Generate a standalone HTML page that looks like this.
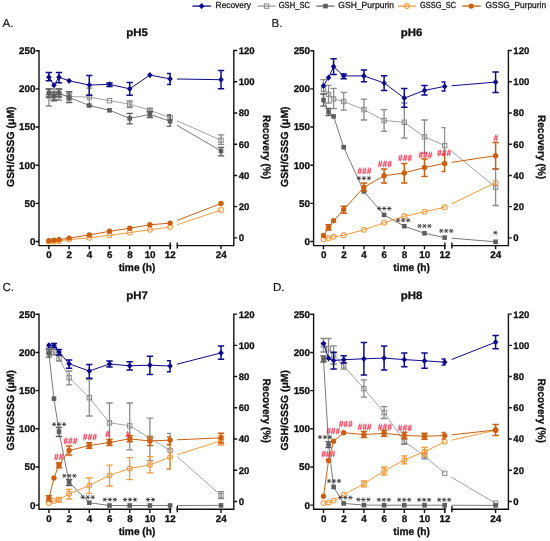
<!DOCTYPE html><html><head><meta charset="utf-8"><style>html,body{margin:0;padding:0;background:#fff;width:550px;height:541px;overflow:hidden}body{position:relative;font-family:"Liberation Sans", sans-serif}</style></head><body><svg width="550" height="541" viewBox="0 0 550 541" style="position:absolute;left:0;top:0;will-change:transform" text-rendering="geometricPrecision" font-family='"Liberation Sans", sans-serif'>
<rect width="550" height="541" fill="#fff"/>
<line x1="192.4" y1="6.1" x2="210.9" y2="6.1" stroke="#0c0c8c" stroke-width="1.3"/>
<path d="M201.6 3L204.4 6.1L201.6 9.2L198.8 6.1Z" fill="#0c0c8c"/>
<text x="215.6" y="8.2" font-size="8.8" fill="#111" stroke="#111" stroke-width="0.25" textLength="35.3" lengthAdjust="spacingAndGlyphs">Recovery</text>
<line x1="257.6" y1="6.1" x2="275.5" y2="6.1" stroke="#9a9a9a" stroke-width="1.3"/>
<rect x="264.4" y="3.9" width="4.4" height="4.4" fill="none" stroke="#8a8a8a" stroke-width="1"/>
<text x="278.7" y="8.2" font-size="8.8" fill="#111" stroke="#111" stroke-width="0.25" textLength="31.3" lengthAdjust="spacingAndGlyphs">GSH_SC</text>
<line x1="316.4" y1="6.1" x2="334.5" y2="6.1" stroke="#6a6a6a" stroke-width="1.3"/>
<rect x="323.2" y="3.8" width="4.6" height="4.6" fill="#5e5e5e"/>
<text x="338.3" y="8.2" font-size="8.8" fill="#111" stroke="#111" stroke-width="0.25" textLength="55.6" lengthAdjust="spacingAndGlyphs">GSH_Purpurin</text>
<line x1="398" y1="6.1" x2="416.2" y2="6.1" stroke="#f89a3a" stroke-width="1.3"/>
<circle cx="406.9" cy="6.1" r="2.45" fill="none" stroke="#f89a3a" stroke-width="1.05"/>
<text x="420" y="8.2" font-size="8.8" fill="#111" stroke="#111" stroke-width="0.25" textLength="36.3" lengthAdjust="spacingAndGlyphs">GSSG_SC</text>
<line x1="462.2" y1="6.1" x2="480.7" y2="6.1" stroke="#cc6010" stroke-width="1.3"/>
<circle cx="471.2" cy="6.1" r="2.7" fill="#cc6010"/>
<text x="485.6" y="8.2" font-size="8.8" fill="#111" stroke="#111" stroke-width="0.25" textLength="60.5" lengthAdjust="spacingAndGlyphs">GSSG_Purpurin</text>
<text x="2.5" y="27.3" font-size="11.6" fill="#111" stroke="#111" stroke-width="0.15">A.</text>
<text x="126.2" y="35.6" font-size="10.8" font-weight="bold" fill="#111" stroke="#111" stroke-width="0.3" textLength="21.6" lengthAdjust="spacingAndGlyphs">pH5</text>
<text x="35.4" y="244.9" font-size="9.8" font-weight="bold" fill="#111" stroke="#111" stroke-width="0.3" text-anchor="end">0</text>
<text x="35.4" y="206.74" font-size="9.8" font-weight="bold" fill="#111" stroke="#111" stroke-width="0.3" text-anchor="end">50</text>
<text x="35.4" y="168.58" font-size="9.8" font-weight="bold" fill="#111" stroke="#111" stroke-width="0.3" text-anchor="end">100</text>
<text x="35.4" y="130.42" font-size="9.8" font-weight="bold" fill="#111" stroke="#111" stroke-width="0.3" text-anchor="end">150</text>
<text x="35.4" y="92.26" font-size="9.8" font-weight="bold" fill="#111" stroke="#111" stroke-width="0.3" text-anchor="end">200</text>
<text x="35.4" y="54.1" font-size="9.8" font-weight="bold" fill="#111" stroke="#111" stroke-width="0.3" text-anchor="end">250</text>
<text x="238.7" y="241.3" font-size="9.6" font-weight="bold" fill="#111" stroke="#111" stroke-width="0.3">0</text>
<text x="238.7" y="210.07" font-size="9.6" font-weight="bold" fill="#111" stroke="#111" stroke-width="0.3">20</text>
<text x="238.7" y="178.83" font-size="9.6" font-weight="bold" fill="#111" stroke="#111" stroke-width="0.3">40</text>
<text x="238.7" y="147.6" font-size="9.6" font-weight="bold" fill="#111" stroke="#111" stroke-width="0.3">60</text>
<text x="238.7" y="116.37" font-size="9.6" font-weight="bold" fill="#111" stroke="#111" stroke-width="0.3">80</text>
<text x="238.7" y="85.13" font-size="9.6" font-weight="bold" fill="#111" stroke="#111" stroke-width="0.3">100</text>
<text x="238.7" y="53.9" font-size="9.6" font-weight="bold" fill="#111" stroke="#111" stroke-width="0.3">120</text>
<text x="49.1" y="258" font-size="9.8" font-weight="bold" fill="#111" stroke="#111" stroke-width="0.3" text-anchor="middle">0</text>
<text x="69.3" y="258" font-size="9.8" font-weight="bold" fill="#111" stroke="#111" stroke-width="0.3" text-anchor="middle">2</text>
<text x="89.5" y="258" font-size="9.8" font-weight="bold" fill="#111" stroke="#111" stroke-width="0.3" text-anchor="middle">4</text>
<text x="109.7" y="258" font-size="9.8" font-weight="bold" fill="#111" stroke="#111" stroke-width="0.3" text-anchor="middle">6</text>
<text x="129.9" y="258" font-size="9.8" font-weight="bold" fill="#111" stroke="#111" stroke-width="0.3" text-anchor="middle">8</text>
<text x="150.1" y="258" font-size="9.8" font-weight="bold" fill="#111" stroke="#111" stroke-width="0.3" text-anchor="middle">10</text>
<text x="170.3" y="258" font-size="9.8" font-weight="bold" fill="#111" stroke="#111" stroke-width="0.3" text-anchor="middle">12</text>
<text x="221.2" y="258" font-size="9.8" font-weight="bold" fill="#111" stroke="#111" stroke-width="0.3" text-anchor="middle">24</text>
<path d="M39 50.7L39 245.6L170.6 245.6M177 245.6L233.8 245.6L233.8 50.5M170.3 243.2L170.3 248.6M177.3 243.2L177.3 247.9M36.3 241.5L39 241.5M36.3 203.34L39 203.34M36.3 165.18L39 165.18M36.3 127.02L39 127.02M36.3 88.86L39 88.86M36.3 50.7L39 50.7M233.8 237.9L236.5 237.9M233.8 206.67L236.5 206.67M233.8 175.43L236.5 175.43M233.8 144.2L236.5 144.2M233.8 112.97L236.5 112.97M233.8 81.73L236.5 81.73M233.8 50.5L236.5 50.5M48.9 245.6L48.9 248.6M69.1 245.6L69.1 248.6M89.3 245.6L89.3 248.6M109.5 245.6L109.5 248.6M129.7 245.6L129.7 248.6M149.9 245.6L149.9 248.6M170.1 245.6L170.1 248.6M221 245.6L221 248.6" stroke="#111" stroke-width="1.4" fill="none" stroke-linecap="square"/>
<text x="13.7" y="146.7" font-size="10.3" font-weight="bold" fill="#111" stroke="#111" stroke-width="0.3" text-anchor="middle" transform="rotate(-90 13.7 146.7)" textLength="80.5" lengthAdjust="spacingAndGlyphs">GSH/GSSG (μM)</text>
<text x="263.3" y="147.05" font-size="10.8" font-weight="bold" fill="#111" stroke="#111" stroke-width="0.3" text-anchor="middle" transform="rotate(90 263.3 147.05)" textLength="64.3" lengthAdjust="spacingAndGlyphs">Recovery (%)</text>
<text x="137" y="271.3" font-size="10.6" font-weight="bold" fill="#111" stroke="#111" stroke-width="0.3" text-anchor="middle" textLength="36.7" lengthAdjust="spacingAndGlyphs">time (h)</text>
<clipPath id="c1A"><rect x="39" y="30" width="131.95" height="220"/></clipPath>
<clipPath id="c2A"><rect x="177" y="30" width="56.8" height="220"/></clipPath>
<path d="M48.9 96L53.95 95L59 94L69.1 96.5L89.3 97.1L109.5 100.7L129.7 104.2L149.9 110.3L170.1 117.8" stroke="#9a9a9a" stroke-width="0.9" fill="none" stroke-linejoin="round"/>
<path d="M170.1 117.8L221 140.2" stroke="#9a9a9a" stroke-width="0.9" fill="none" clip-path="url(#c2A)"/>
<path d="M48.9 89L48.9 106M45.7 89L52.1 89M45.7 106L52.1 106M53.95 89L53.95 101M50.75 89L57.15 89M50.75 101L57.15 101M59 89L59 100M55.8 89L62.2 89M55.8 100L62.2 100M69.1 93L69.1 100M65.9 93L72.3 93M65.9 100L72.3 100M89.3 88.2L89.3 106M86.1 88.2L92.5 88.2M86.1 106L92.5 106M129.7 100.9L129.7 107.5M126.5 100.9L132.9 100.9M126.5 107.5L132.9 107.5M149.9 108.5L149.9 112M146.7 108.5L153.1 108.5M146.7 112L153.1 112M221 134.8L221 144.4M217.8 134.8L224.2 134.8M217.8 144.4L224.2 144.4" stroke="#8a8a8a" stroke-width="1.3" fill="none"/>
<path d="M170.1 115.5L170.1 120M166.9 115.5L173.3 115.5M166.9 120L173.3 120" stroke="#8a8a8a" stroke-width="1.3" fill="none" clip-path="url(#c1A)"/>
<rect x="46.7" y="93.8" width="4.4" height="4.4" fill="none" stroke="#8a8a8a" stroke-width="1"/>
<rect x="51.75" y="92.8" width="4.4" height="4.4" fill="none" stroke="#8a8a8a" stroke-width="1"/>
<rect x="56.8" y="91.8" width="4.4" height="4.4" fill="none" stroke="#8a8a8a" stroke-width="1"/>
<rect x="66.9" y="94.3" width="4.4" height="4.4" fill="none" stroke="#8a8a8a" stroke-width="1"/>
<rect x="87.1" y="94.9" width="4.4" height="4.4" fill="none" stroke="#8a8a8a" stroke-width="1"/>
<rect x="107.3" y="98.5" width="4.4" height="4.4" fill="none" stroke="#8a8a8a" stroke-width="1"/>
<rect x="127.5" y="102" width="4.4" height="4.4" fill="none" stroke="#8a8a8a" stroke-width="1"/>
<rect x="147.7" y="108.1" width="4.4" height="4.4" fill="none" stroke="#8a8a8a" stroke-width="1"/>
<rect x="167.9" y="115.6" width="4.4" height="4.4" fill="none" stroke="#8a8a8a" stroke-width="1"/>
<rect x="218.8" y="138" width="4.4" height="4.4" fill="none" stroke="#8a8a8a" stroke-width="1"/>
<path d="M48.9 93L53.95 96L59 93L69.1 97.5L89.3 105.5L109.5 110.3L129.7 118.4L149.9 114.4L170.1 121.2" stroke="#6a6a6a" stroke-width="0.9" fill="none" stroke-linejoin="round"/>
<path d="M170.1 121.2L221 151" stroke="#6a6a6a" stroke-width="0.9" fill="none" clip-path="url(#c2A)"/>
<path d="M48.9 89L48.9 97M45.7 89L52.1 89M45.7 97L52.1 97M53.95 92L53.95 100M50.75 92L57.15 92M50.75 100L57.15 100M59 89L59 97M55.8 89L62.2 89M55.8 97L62.2 97M69.1 91.6L69.1 102.5M65.9 91.6L72.3 91.6M65.9 102.5L72.3 102.5M129.7 113.3L129.7 123.9M126.5 113.3L132.9 113.3M126.5 123.9L132.9 123.9M149.9 111.5L149.9 117.5M146.7 111.5L153.1 111.5M146.7 117.5L153.1 117.5M221 147.3L221 155.9M217.8 147.3L224.2 147.3M217.8 155.9L224.2 155.9" stroke="#5e5e5e" stroke-width="1.3" fill="none"/>
<path d="M170.1 115L170.1 126.3M166.9 115L173.3 115M166.9 126.3L173.3 126.3" stroke="#5e5e5e" stroke-width="1.3" fill="none" clip-path="url(#c1A)"/>
<rect x="46.6" y="90.7" width="4.6" height="4.6" fill="#5e5e5e"/>
<rect x="51.65" y="93.7" width="4.6" height="4.6" fill="#5e5e5e"/>
<rect x="56.7" y="90.7" width="4.6" height="4.6" fill="#5e5e5e"/>
<rect x="66.8" y="95.2" width="4.6" height="4.6" fill="#5e5e5e"/>
<rect x="87" y="103.2" width="4.6" height="4.6" fill="#5e5e5e"/>
<rect x="107.2" y="108" width="4.6" height="4.6" fill="#5e5e5e"/>
<rect x="127.4" y="116.1" width="4.6" height="4.6" fill="#5e5e5e"/>
<rect x="147.6" y="112.1" width="4.6" height="4.6" fill="#5e5e5e"/>
<rect x="167.8" y="118.9" width="4.6" height="4.6" fill="#5e5e5e"/>
<rect x="218.7" y="148.7" width="4.6" height="4.6" fill="#5e5e5e"/>
<path d="M48.9 241.5L53.95 241.5L59 241L69.1 239.6L89.3 237.8L109.5 235.3L129.7 232.6L149.9 229.7L170.1 227.1" stroke="#f89a3a" stroke-width="1.0" fill="none" stroke-linejoin="round"/>
<path d="M170.1 227.1L221 210" stroke="#f89a3a" stroke-width="1.0" fill="none" clip-path="url(#c2A)"/>
<circle cx="48.9" cy="241.5" r="2.45" fill="none" stroke="#f89a3a" stroke-width="1.05"/>
<circle cx="53.95" cy="241.5" r="2.45" fill="none" stroke="#f89a3a" stroke-width="1.05"/>
<circle cx="59" cy="241" r="2.45" fill="none" stroke="#f89a3a" stroke-width="1.05"/>
<circle cx="69.1" cy="239.6" r="2.45" fill="none" stroke="#f89a3a" stroke-width="1.05"/>
<circle cx="89.3" cy="237.8" r="2.45" fill="none" stroke="#f89a3a" stroke-width="1.05"/>
<circle cx="109.5" cy="235.3" r="2.45" fill="none" stroke="#f89a3a" stroke-width="1.05"/>
<circle cx="129.7" cy="232.6" r="2.45" fill="none" stroke="#f89a3a" stroke-width="1.05"/>
<circle cx="149.9" cy="229.7" r="2.45" fill="none" stroke="#f89a3a" stroke-width="1.05"/>
<circle cx="170.1" cy="227.1" r="2.45" fill="none" stroke="#f89a3a" stroke-width="1.05"/>
<circle cx="221" cy="210" r="2.45" fill="none" stroke="#f89a3a" stroke-width="1.05"/>
<path d="M48.9 240.8L53.95 240.3L59 239.8L69.1 238.1L89.3 234.9L109.5 231.3L129.7 228.3L149.9 224.8L170.1 223.1" stroke="#cc6010" stroke-width="1.0" fill="none" stroke-linejoin="round"/>
<path d="M170.1 223.1L221 203.5" stroke="#cc6010" stroke-width="1.0" fill="none" clip-path="url(#c2A)"/>
<circle cx="48.9" cy="240.8" r="2.7" fill="#cc6010"/>
<circle cx="53.95" cy="240.3" r="2.7" fill="#cc6010"/>
<circle cx="59" cy="239.8" r="2.7" fill="#cc6010"/>
<circle cx="69.1" cy="238.1" r="2.7" fill="#cc6010"/>
<circle cx="89.3" cy="234.9" r="2.7" fill="#cc6010"/>
<circle cx="109.5" cy="231.3" r="2.7" fill="#cc6010"/>
<circle cx="129.7" cy="228.3" r="2.7" fill="#cc6010"/>
<circle cx="149.9" cy="224.8" r="2.7" fill="#cc6010"/>
<circle cx="170.1" cy="223.1" r="2.7" fill="#cc6010"/>
<circle cx="221" cy="203.5" r="2.7" fill="#cc6010"/>
<path d="M48.9 77.2L53.95 85.2L59 77.2L69.1 80.8L89.3 85L109.5 84.4L129.7 88.8L149.9 75.1L170.1 78.9" stroke="#0c0c8c" stroke-width="1.0" fill="none" stroke-linejoin="round"/>
<path d="M170.1 78.9L221 79.7" stroke="#0c0c8c" stroke-width="1.0" fill="none" clip-path="url(#c2A)"/>
<path d="M48.9 72.4L48.9 80.8M45.7 72.4L52.1 72.4M45.7 80.8L52.1 80.8M59 72.4L59 82.7M55.8 72.4L62.2 72.4M55.8 82.7L62.2 82.7M89.3 75.5L89.3 95.3M86.1 75.5L92.5 75.5M86.1 95.3L92.5 95.3M109.5 82.9L109.5 86.6M106.3 82.9L112.7 82.9M106.3 86.6L112.7 86.6M129.7 82.5L129.7 95.2M126.5 82.5L132.9 82.5M126.5 95.2L132.9 95.2M221 70.4L221 88.8M217.8 70.4L224.2 70.4M217.8 88.8L224.2 88.8" stroke="#0c0c8c" stroke-width="1.5" fill="none"/>
<path d="M170.1 73.6L170.1 84.4M166.9 73.6L173.3 73.6M166.9 84.4L173.3 84.4" stroke="#0c0c8c" stroke-width="1.5" fill="none" clip-path="url(#c1A)"/>
<path d="M48.9 74.1L51.7 77.2L48.9 80.3L46.1 77.2Z" fill="#0c0c8c"/>
<path d="M53.95 82.1L56.75 85.2L53.95 88.3L51.15 85.2Z" fill="#0c0c8c"/>
<path d="M59 74.1L61.8 77.2L59 80.3L56.2 77.2Z" fill="#0c0c8c"/>
<path d="M69.1 77.7L71.9 80.8L69.1 83.9L66.3 80.8Z" fill="#0c0c8c"/>
<path d="M89.3 81.9L92.1 85L89.3 88.1L86.5 85Z" fill="#0c0c8c"/>
<path d="M109.5 81.3L112.3 84.4L109.5 87.5L106.7 84.4Z" fill="#0c0c8c"/>
<path d="M129.7 85.7L132.5 88.8L129.7 91.9L126.9 88.8Z" fill="#0c0c8c"/>
<path d="M149.9 72L152.7 75.1L149.9 78.2L147.1 75.1Z" fill="#0c0c8c"/>
<path d="M170.1 75.8L172.9 78.9L170.1 82L167.3 78.9Z" fill="#0c0c8c"/>
<path d="M221 76.6L223.8 79.7L221 82.8L218.2 79.7Z" fill="#0c0c8c"/>
<text x="271.6" y="27.4" font-size="11.6" fill="#111" stroke="#111" stroke-width="0.15">B.</text>
<text x="400.8" y="35.6" font-size="10.8" font-weight="bold" fill="#111" stroke="#111" stroke-width="0.3" textLength="21.6" lengthAdjust="spacingAndGlyphs">pH6</text>
<text x="310" y="244.9" font-size="9.8" font-weight="bold" fill="#111" stroke="#111" stroke-width="0.3" text-anchor="end">0</text>
<text x="310" y="206.74" font-size="9.8" font-weight="bold" fill="#111" stroke="#111" stroke-width="0.3" text-anchor="end">50</text>
<text x="310" y="168.58" font-size="9.8" font-weight="bold" fill="#111" stroke="#111" stroke-width="0.3" text-anchor="end">100</text>
<text x="310" y="130.42" font-size="9.8" font-weight="bold" fill="#111" stroke="#111" stroke-width="0.3" text-anchor="end">150</text>
<text x="310" y="92.26" font-size="9.8" font-weight="bold" fill="#111" stroke="#111" stroke-width="0.3" text-anchor="end">200</text>
<text x="310" y="54.1" font-size="9.8" font-weight="bold" fill="#111" stroke="#111" stroke-width="0.3" text-anchor="end">250</text>
<text x="513.3" y="241.3" font-size="9.6" font-weight="bold" fill="#111" stroke="#111" stroke-width="0.3">0</text>
<text x="513.3" y="210.07" font-size="9.6" font-weight="bold" fill="#111" stroke="#111" stroke-width="0.3">20</text>
<text x="513.3" y="178.83" font-size="9.6" font-weight="bold" fill="#111" stroke="#111" stroke-width="0.3">40</text>
<text x="513.3" y="147.6" font-size="9.6" font-weight="bold" fill="#111" stroke="#111" stroke-width="0.3">60</text>
<text x="513.3" y="116.37" font-size="9.6" font-weight="bold" fill="#111" stroke="#111" stroke-width="0.3">80</text>
<text x="513.3" y="85.13" font-size="9.6" font-weight="bold" fill="#111" stroke="#111" stroke-width="0.3">100</text>
<text x="513.3" y="53.9" font-size="9.6" font-weight="bold" fill="#111" stroke="#111" stroke-width="0.3">120</text>
<text x="323.7" y="258" font-size="9.8" font-weight="bold" fill="#111" stroke="#111" stroke-width="0.3" text-anchor="middle">0</text>
<text x="343.9" y="258" font-size="9.8" font-weight="bold" fill="#111" stroke="#111" stroke-width="0.3" text-anchor="middle">2</text>
<text x="364.1" y="258" font-size="9.8" font-weight="bold" fill="#111" stroke="#111" stroke-width="0.3" text-anchor="middle">4</text>
<text x="384.3" y="258" font-size="9.8" font-weight="bold" fill="#111" stroke="#111" stroke-width="0.3" text-anchor="middle">6</text>
<text x="404.5" y="258" font-size="9.8" font-weight="bold" fill="#111" stroke="#111" stroke-width="0.3" text-anchor="middle">8</text>
<text x="424.7" y="258" font-size="9.8" font-weight="bold" fill="#111" stroke="#111" stroke-width="0.3" text-anchor="middle">10</text>
<text x="444.9" y="258" font-size="9.8" font-weight="bold" fill="#111" stroke="#111" stroke-width="0.3" text-anchor="middle">12</text>
<text x="495.8" y="258" font-size="9.8" font-weight="bold" fill="#111" stroke="#111" stroke-width="0.3" text-anchor="middle">24</text>
<path d="M313.6 50.7L313.6 245.6L445.2 245.6M451.6 245.6L508.4 245.6L508.4 50.5M444.9 243.2L444.9 248.6M451.9 243.2L451.9 247.9M310.9 241.5L313.6 241.5M310.9 203.34L313.6 203.34M310.9 165.18L313.6 165.18M310.9 127.02L313.6 127.02M310.9 88.86L313.6 88.86M310.9 50.7L313.6 50.7M508.4 237.9L511.1 237.9M508.4 206.67L511.1 206.67M508.4 175.43L511.1 175.43M508.4 144.2L511.1 144.2M508.4 112.97L511.1 112.97M508.4 81.73L511.1 81.73M508.4 50.5L511.1 50.5M323.5 245.6L323.5 248.6M343.7 245.6L343.7 248.6M363.9 245.6L363.9 248.6M384.1 245.6L384.1 248.6M404.3 245.6L404.3 248.6M424.5 245.6L424.5 248.6M444.7 245.6L444.7 248.6M495.6 245.6L495.6 248.6" stroke="#111" stroke-width="1.4" fill="none" stroke-linecap="square"/>
<text x="288.3" y="146.7" font-size="10.3" font-weight="bold" fill="#111" stroke="#111" stroke-width="0.3" text-anchor="middle" transform="rotate(-90 288.3 146.7)" textLength="80.5" lengthAdjust="spacingAndGlyphs">GSH/GSSG (μM)</text>
<text x="537.9" y="147.05" font-size="10.8" font-weight="bold" fill="#111" stroke="#111" stroke-width="0.3" text-anchor="middle" transform="rotate(90 537.9 147.05)" textLength="64.3" lengthAdjust="spacingAndGlyphs">Recovery (%)</text>
<text x="411.6" y="271.3" font-size="10.6" font-weight="bold" fill="#111" stroke="#111" stroke-width="0.3" text-anchor="middle" textLength="36.7" lengthAdjust="spacingAndGlyphs">time (h)</text>
<clipPath id="c1B"><rect x="313.6" y="30" width="131.95" height="220"/></clipPath>
<clipPath id="c2B"><rect x="451.6" y="30" width="56.8" height="220"/></clipPath>
<path d="M323.5 89.3L328.55 94.4L333.6 99L343.7 101.5L363.9 109.6L384.1 120.5L404.3 122.3L424.5 136.9L444.7 145.6" stroke="#9a9a9a" stroke-width="0.9" fill="none" stroke-linejoin="round"/>
<path d="M444.7 145.6L495.6 187.2" stroke="#9a9a9a" stroke-width="0.9" fill="none" clip-path="url(#c2B)"/>
<path d="M323.5 79.7L323.5 94.4M320.3 79.7L326.7 79.7M320.3 94.4L326.7 94.4M328.55 85.3L328.55 103M325.35 85.3L331.75 85.3M325.35 103L331.75 103M333.6 88.3L333.6 108.7M330.4 88.3L336.8 88.3M330.4 108.7L336.8 108.7M343.7 92.4L343.7 110.2M340.5 92.4L346.9 92.4M340.5 110.2L346.9 110.2M363.9 99.2L363.9 120M360.7 99.2L367.1 99.2M360.7 120L367.1 120M384.1 109.7L384.1 131.3M380.9 109.7L387.3 109.7M380.9 131.3L387.3 131.3M404.3 103L404.3 138.2M401.1 103L407.5 103M401.1 138.2L407.5 138.2M424.5 120L424.5 153M421.3 120L427.7 120M421.3 153L427.7 153M495.6 169L495.6 205.5M492.4 169L498.8 169M492.4 205.5L498.8 205.5" stroke="#8a8a8a" stroke-width="1.3" fill="none"/>
<path d="M444.7 127.6L444.7 163M441.5 127.6L447.9 127.6M441.5 163L447.9 163" stroke="#8a8a8a" stroke-width="1.3" fill="none" clip-path="url(#c1B)"/>
<rect x="321.3" y="87.1" width="4.4" height="4.4" fill="none" stroke="#8a8a8a" stroke-width="1"/>
<rect x="326.35" y="92.2" width="4.4" height="4.4" fill="none" stroke="#8a8a8a" stroke-width="1"/>
<rect x="331.4" y="96.8" width="4.4" height="4.4" fill="none" stroke="#8a8a8a" stroke-width="1"/>
<rect x="341.5" y="99.3" width="4.4" height="4.4" fill="none" stroke="#8a8a8a" stroke-width="1"/>
<rect x="361.7" y="107.4" width="4.4" height="4.4" fill="none" stroke="#8a8a8a" stroke-width="1"/>
<rect x="381.9" y="118.3" width="4.4" height="4.4" fill="none" stroke="#8a8a8a" stroke-width="1"/>
<rect x="402.1" y="120.1" width="4.4" height="4.4" fill="none" stroke="#8a8a8a" stroke-width="1"/>
<rect x="422.3" y="134.7" width="4.4" height="4.4" fill="none" stroke="#8a8a8a" stroke-width="1"/>
<rect x="442.5" y="143.4" width="4.4" height="4.4" fill="none" stroke="#8a8a8a" stroke-width="1"/>
<rect x="493.4" y="185" width="4.4" height="4.4" fill="none" stroke="#8a8a8a" stroke-width="1"/>
<path d="M323.5 100L328.55 111.9L333.6 116.4L343.7 147.2L363.9 191.4L384.1 214.9L404.3 226.2L424.5 233.3L444.7 237.6" stroke="#6a6a6a" stroke-width="0.9" fill="none" stroke-linejoin="round"/>
<path d="M444.7 237.6L495.6 241.8" stroke="#6a6a6a" stroke-width="0.9" fill="none" clip-path="url(#c2B)"/>
<path d="M323.5 93.9L323.5 106.1M320.3 93.9L326.7 93.9M320.3 106.1L326.7 106.1M328.55 108.5L328.55 115.5M325.35 108.5L331.75 108.5M325.35 115.5L331.75 115.5" stroke="#5e5e5e" stroke-width="1.3" fill="none"/>
<rect x="321.2" y="97.7" width="4.6" height="4.6" fill="#5e5e5e"/>
<rect x="326.25" y="109.6" width="4.6" height="4.6" fill="#5e5e5e"/>
<rect x="331.3" y="114.1" width="4.6" height="4.6" fill="#5e5e5e"/>
<rect x="341.4" y="144.9" width="4.6" height="4.6" fill="#5e5e5e"/>
<rect x="361.6" y="189.1" width="4.6" height="4.6" fill="#5e5e5e"/>
<rect x="381.8" y="212.6" width="4.6" height="4.6" fill="#5e5e5e"/>
<rect x="402" y="223.9" width="4.6" height="4.6" fill="#5e5e5e"/>
<rect x="422.2" y="231" width="4.6" height="4.6" fill="#5e5e5e"/>
<rect x="442.4" y="235.3" width="4.6" height="4.6" fill="#5e5e5e"/>
<rect x="493.3" y="239.5" width="4.6" height="4.6" fill="#5e5e5e"/>
<path d="M323.5 239.2L328.55 238.3L333.6 236.8L343.7 235.3L363.9 229.8L384.1 222.7L404.3 216.3L424.5 211.7L444.7 207.3" stroke="#f89a3a" stroke-width="1.0" fill="none" stroke-linejoin="round"/>
<path d="M444.7 207.3L495.6 182.6" stroke="#f89a3a" stroke-width="1.0" fill="none" clip-path="url(#c2B)"/>
<circle cx="323.5" cy="239.2" r="2.45" fill="none" stroke="#f89a3a" stroke-width="1.05"/>
<circle cx="328.55" cy="238.3" r="2.45" fill="none" stroke="#f89a3a" stroke-width="1.05"/>
<circle cx="333.6" cy="236.8" r="2.45" fill="none" stroke="#f89a3a" stroke-width="1.05"/>
<circle cx="343.7" cy="235.3" r="2.45" fill="none" stroke="#f89a3a" stroke-width="1.05"/>
<circle cx="363.9" cy="229.8" r="2.45" fill="none" stroke="#f89a3a" stroke-width="1.05"/>
<circle cx="384.1" cy="222.7" r="2.45" fill="none" stroke="#f89a3a" stroke-width="1.05"/>
<circle cx="404.3" cy="216.3" r="2.45" fill="none" stroke="#f89a3a" stroke-width="1.05"/>
<circle cx="424.5" cy="211.7" r="2.45" fill="none" stroke="#f89a3a" stroke-width="1.05"/>
<circle cx="444.7" cy="207.3" r="2.45" fill="none" stroke="#f89a3a" stroke-width="1.05"/>
<circle cx="495.6" cy="182.6" r="2.45" fill="none" stroke="#f89a3a" stroke-width="1.05"/>
<path d="M323.5 235.5L328.55 227.5L333.6 220.8L343.7 209.6L363.9 187.3L384.1 175.8L404.3 172.9L424.5 167.5L444.7 163.4" stroke="#cc6010" stroke-width="1.0" fill="none" stroke-linejoin="round"/>
<path d="M444.7 163.4L495.6 155.7" stroke="#cc6010" stroke-width="1.0" fill="none" clip-path="url(#c2B)"/>
<path d="M328.55 224.7L328.55 230.1M325.35 224.7L331.75 224.7M325.35 230.1L331.75 230.1M343.7 206.2L343.7 213.3M340.5 206.2L346.9 206.2M340.5 213.3L346.9 213.3M363.9 183L363.9 191.1M360.7 183L367.1 183M360.7 191.1L367.1 191.1M384.1 169.1L384.1 183M380.9 169.1L387.3 169.1M380.9 183L387.3 183M404.3 163.6L404.3 183M401.1 163.6L407.5 163.6M401.1 183L407.5 183M424.5 159L424.5 176.6M421.3 159L427.7 159M421.3 176.6L427.7 176.6M495.6 142.5L495.6 168.9M492.4 142.5L498.8 142.5M492.4 168.9L498.8 168.9" stroke="#cc6010" stroke-width="1.5" fill="none"/>
<path d="M444.7 154.7L444.7 171.4M441.5 154.7L447.9 154.7M441.5 171.4L447.9 171.4" stroke="#cc6010" stroke-width="1.5" fill="none" clip-path="url(#c1B)"/>
<circle cx="323.5" cy="235.5" r="2.7" fill="#cc6010"/>
<circle cx="328.55" cy="227.5" r="2.7" fill="#cc6010"/>
<circle cx="333.6" cy="220.8" r="2.7" fill="#cc6010"/>
<circle cx="343.7" cy="209.6" r="2.7" fill="#cc6010"/>
<circle cx="363.9" cy="187.3" r="2.7" fill="#cc6010"/>
<circle cx="384.1" cy="175.8" r="2.7" fill="#cc6010"/>
<circle cx="404.3" cy="172.9" r="2.7" fill="#cc6010"/>
<circle cx="424.5" cy="167.5" r="2.7" fill="#cc6010"/>
<circle cx="444.7" cy="163.4" r="2.7" fill="#cc6010"/>
<circle cx="495.6" cy="155.7" r="2.7" fill="#cc6010"/>
<path d="M323.5 85.8L328.55 77.7L333.6 66.6L343.7 75.9L363.9 75.9L384.1 83L404.3 98.1L424.5 90.4L444.7 86.4" stroke="#0c0c8c" stroke-width="1.0" fill="none" stroke-linejoin="round"/>
<path d="M444.7 86.4L495.6 82.1" stroke="#0c0c8c" stroke-width="1.0" fill="none" clip-path="url(#c2B)"/>
<path d="M333.6 58.8L333.6 74.6M330.4 58.8L336.8 58.8M330.4 74.6L336.8 74.6M343.7 73.9L343.7 78.7M340.5 73.9L346.9 73.9M340.5 78.7L346.9 78.7M363.9 70L363.9 81.7M360.7 70L367.1 70M360.7 81.7L367.1 81.7M384.1 75.7L384.1 90.5M380.9 75.7L387.3 75.7M380.9 90.5L387.3 90.5M404.3 88.6L404.3 107.3M401.1 88.6L407.5 88.6M401.1 107.3L407.5 107.3M424.5 85.6L424.5 95M421.3 85.6L427.7 85.6M421.3 95L427.7 95M495.6 72L495.6 92.4M492.4 72L498.8 72M492.4 92.4L498.8 92.4" stroke="#0c0c8c" stroke-width="1.5" fill="none"/>
<path d="M444.7 82.1L444.7 91.1M441.5 82.1L447.9 82.1M441.5 91.1L447.9 91.1" stroke="#0c0c8c" stroke-width="1.5" fill="none" clip-path="url(#c1B)"/>
<path d="M323.5 82.7L326.3 85.8L323.5 88.9L320.7 85.8Z" fill="#0c0c8c"/>
<path d="M328.55 74.6L331.35 77.7L328.55 80.8L325.75 77.7Z" fill="#0c0c8c"/>
<path d="M333.6 63.5L336.4 66.6L333.6 69.7L330.8 66.6Z" fill="#0c0c8c"/>
<path d="M343.7 72.8L346.5 75.9L343.7 79L340.9 75.9Z" fill="#0c0c8c"/>
<path d="M363.9 72.8L366.7 75.9L363.9 79L361.1 75.9Z" fill="#0c0c8c"/>
<path d="M384.1 79.9L386.9 83L384.1 86.1L381.3 83Z" fill="#0c0c8c"/>
<path d="M404.3 95L407.1 98.1L404.3 101.2L401.5 98.1Z" fill="#0c0c8c"/>
<path d="M424.5 87.3L427.3 90.4L424.5 93.5L421.7 90.4Z" fill="#0c0c8c"/>
<path d="M444.7 83.3L447.5 86.4L444.7 89.5L441.9 86.4Z" fill="#0c0c8c"/>
<path d="M495.6 79L498.4 82.1L495.6 85.2L492.8 82.1Z" fill="#0c0c8c"/>
<text transform="translate(364.3 174.1) scale(0.85 1)" x="0.4" y="0" font-size="9" fill="#f22a48" stroke="#f22a48" stroke-width="0.25" text-anchor="middle" letter-spacing="0.5">###</text>
<text transform="translate(384.7 167.1) scale(0.85 1)" x="0.4" y="0" font-size="9" fill="#f22a48" stroke="#f22a48" stroke-width="0.25" text-anchor="middle" letter-spacing="0.5">###</text>
<text transform="translate(404.9 161.3) scale(0.85 1)" x="0.4" y="0" font-size="9" fill="#f22a48" stroke="#f22a48" stroke-width="0.25" text-anchor="middle" letter-spacing="0.5">###</text>
<text transform="translate(425.2 157.7) scale(0.85 1)" x="0.4" y="0" font-size="9" fill="#f22a48" stroke="#f22a48" stroke-width="0.25" text-anchor="middle" letter-spacing="0.5">###</text>
<text transform="translate(444 155.5) scale(0.85 1)" x="0.4" y="0" font-size="9" fill="#f22a48" stroke="#f22a48" stroke-width="0.25" text-anchor="middle" letter-spacing="0.5">###</text>
<text transform="translate(495.7 140.5) scale(0.85 1)" x="0.4" y="0" font-size="9" fill="#f22a48" stroke="#f22a48" stroke-width="0.25" text-anchor="middle" letter-spacing="0.5">#</text>
<path d="M356.7 178.2L361.1 178.2M357.75 176.25L360.05 180.15M357.75 180.15L360.05 176.25M361.7 178.2L366.1 178.2M362.75 176.25L365.05 180.15M362.75 180.15L365.05 176.25M366.7 178.2L371.1 178.2M367.75 176.25L370.05 180.15M367.75 180.15L370.05 176.25" stroke="#333333" stroke-width="0.85" fill="none"/>
<path d="M377.1 208.5L381.5 208.5M378.15 206.55L380.45 210.45M378.15 210.45L380.45 206.55M382.1 208.5L386.5 208.5M383.15 206.55L385.45 210.45M383.15 210.45L385.45 206.55M387.1 208.5L391.5 208.5M388.15 206.55L390.45 210.45M388.15 210.45L390.45 206.55" stroke="#333333" stroke-width="0.85" fill="none"/>
<path d="M396 220.2L400.4 220.2M397.05 218.25L399.35 222.15M397.05 222.15L399.35 218.25M401 220.2L405.4 220.2M402.05 218.25L404.35 222.15M402.05 222.15L404.35 218.25M406 220.2L410.4 220.2M407.05 218.25L409.35 222.15M407.05 222.15L409.35 218.25" stroke="#333333" stroke-width="0.85" fill="none"/>
<path d="M417.3 226L421.7 226M418.35 224.05L420.65 227.95M418.35 227.95L420.65 224.05M422.3 226L426.7 226M423.35 224.05L425.65 227.95M423.35 227.95L425.65 224.05M427.3 226L431.7 226M428.35 224.05L430.65 227.95M428.35 227.95L430.65 224.05" stroke="#333333" stroke-width="0.85" fill="none"/>
<path d="M439.1 230.9L443.5 230.9M440.15 228.95L442.45 232.85M440.15 232.85L442.45 228.95M444.1 230.9L448.5 230.9M445.15 228.95L447.45 232.85M445.15 232.85L447.45 228.95M449.1 230.9L453.5 230.9M450.15 228.95L452.45 232.85M450.15 232.85L452.45 228.95" stroke="#333333" stroke-width="0.85" fill="none"/>
<path d="M493.2 232.7L497.6 232.7M494.25 230.75L496.55 234.65M494.25 234.65L496.55 230.75" stroke="#333333" stroke-width="0.85" fill="none"/>
<text x="2.5" y="291" font-size="11.6" fill="#111" stroke="#111" stroke-width="0.15">C.</text>
<text x="126.2" y="299.2" font-size="10.8" font-weight="bold" fill="#111" stroke="#111" stroke-width="0.3" textLength="21.6" lengthAdjust="spacingAndGlyphs">pH7</text>
<text x="35.4" y="508.5" font-size="9.8" font-weight="bold" fill="#111" stroke="#111" stroke-width="0.3" text-anchor="end">0</text>
<text x="35.4" y="470.34" font-size="9.8" font-weight="bold" fill="#111" stroke="#111" stroke-width="0.3" text-anchor="end">50</text>
<text x="35.4" y="432.18" font-size="9.8" font-weight="bold" fill="#111" stroke="#111" stroke-width="0.3" text-anchor="end">100</text>
<text x="35.4" y="394.02" font-size="9.8" font-weight="bold" fill="#111" stroke="#111" stroke-width="0.3" text-anchor="end">150</text>
<text x="35.4" y="355.86" font-size="9.8" font-weight="bold" fill="#111" stroke="#111" stroke-width="0.3" text-anchor="end">200</text>
<text x="35.4" y="317.7" font-size="9.8" font-weight="bold" fill="#111" stroke="#111" stroke-width="0.3" text-anchor="end">250</text>
<text x="238.7" y="504.9" font-size="9.6" font-weight="bold" fill="#111" stroke="#111" stroke-width="0.3">0</text>
<text x="238.7" y="473.67" font-size="9.6" font-weight="bold" fill="#111" stroke="#111" stroke-width="0.3">20</text>
<text x="238.7" y="442.43" font-size="9.6" font-weight="bold" fill="#111" stroke="#111" stroke-width="0.3">40</text>
<text x="238.7" y="411.2" font-size="9.6" font-weight="bold" fill="#111" stroke="#111" stroke-width="0.3">60</text>
<text x="238.7" y="379.97" font-size="9.6" font-weight="bold" fill="#111" stroke="#111" stroke-width="0.3">80</text>
<text x="238.7" y="348.73" font-size="9.6" font-weight="bold" fill="#111" stroke="#111" stroke-width="0.3">100</text>
<text x="238.7" y="317.5" font-size="9.6" font-weight="bold" fill="#111" stroke="#111" stroke-width="0.3">120</text>
<text x="49.1" y="521.6" font-size="9.8" font-weight="bold" fill="#111" stroke="#111" stroke-width="0.3" text-anchor="middle">0</text>
<text x="69.3" y="521.6" font-size="9.8" font-weight="bold" fill="#111" stroke="#111" stroke-width="0.3" text-anchor="middle">2</text>
<text x="89.5" y="521.6" font-size="9.8" font-weight="bold" fill="#111" stroke="#111" stroke-width="0.3" text-anchor="middle">4</text>
<text x="109.7" y="521.6" font-size="9.8" font-weight="bold" fill="#111" stroke="#111" stroke-width="0.3" text-anchor="middle">6</text>
<text x="129.9" y="521.6" font-size="9.8" font-weight="bold" fill="#111" stroke="#111" stroke-width="0.3" text-anchor="middle">8</text>
<text x="150.1" y="521.6" font-size="9.8" font-weight="bold" fill="#111" stroke="#111" stroke-width="0.3" text-anchor="middle">10</text>
<text x="170.3" y="521.6" font-size="9.8" font-weight="bold" fill="#111" stroke="#111" stroke-width="0.3" text-anchor="middle">12</text>
<text x="221.2" y="521.6" font-size="9.8" font-weight="bold" fill="#111" stroke="#111" stroke-width="0.3" text-anchor="middle">24</text>
<path d="M39 314.3L39 509.2L170.6 509.2M177 509.2L233.8 509.2L233.8 314.1M170.3 506.8L170.3 512.2M177.3 506.8L177.3 511.5M36.3 505.1L39 505.1M36.3 466.94L39 466.94M36.3 428.78L39 428.78M36.3 390.62L39 390.62M36.3 352.46L39 352.46M36.3 314.3L39 314.3M233.8 501.5L236.5 501.5M233.8 470.27L236.5 470.27M233.8 439.03L236.5 439.03M233.8 407.8L236.5 407.8M233.8 376.57L236.5 376.57M233.8 345.33L236.5 345.33M233.8 314.1L236.5 314.1M48.9 509.2L48.9 512.2M69.1 509.2L69.1 512.2M89.3 509.2L89.3 512.2M109.5 509.2L109.5 512.2M129.7 509.2L129.7 512.2M149.9 509.2L149.9 512.2M170.1 509.2L170.1 512.2M221 509.2L221 512.2" stroke="#111" stroke-width="1.4" fill="none" stroke-linecap="square"/>
<text x="13.7" y="410.3" font-size="10.3" font-weight="bold" fill="#111" stroke="#111" stroke-width="0.3" text-anchor="middle" transform="rotate(-90 13.7 410.3)" textLength="80.5" lengthAdjust="spacingAndGlyphs">GSH/GSSG (μM)</text>
<text x="263.3" y="410.65" font-size="10.8" font-weight="bold" fill="#111" stroke="#111" stroke-width="0.3" text-anchor="middle" transform="rotate(90 263.3 410.65)" textLength="64.3" lengthAdjust="spacingAndGlyphs">Recovery (%)</text>
<text x="137" y="534.9" font-size="10.6" font-weight="bold" fill="#111" stroke="#111" stroke-width="0.3" text-anchor="middle" textLength="36.7" lengthAdjust="spacingAndGlyphs">time (h)</text>
<clipPath id="c1C"><rect x="39" y="293.6" width="131.95" height="220"/></clipPath>
<clipPath id="c2C"><rect x="177" y="293.6" width="56.8" height="220"/></clipPath>
<path d="M48.9 350.5L53.95 352L59 358.3L69.1 377.7L89.3 397.7L109.5 422.8L129.7 425.8L149.9 438.1L170.1 450.5" stroke="#9a9a9a" stroke-width="0.9" fill="none" stroke-linejoin="round"/>
<path d="M170.1 450.5L221 495.4" stroke="#9a9a9a" stroke-width="0.9" fill="none" clip-path="url(#c2C)"/>
<path d="M48.9 348L48.9 353M45.7 348L52.1 348M45.7 353L52.1 353M53.95 349L53.95 355M50.75 349L57.15 349M50.75 355L57.15 355M59 355L59 361M55.8 355L62.2 355M55.8 361L62.2 361M69.1 371L69.1 384.9M65.9 371L72.3 371M65.9 384.9L72.3 384.9M89.3 379.5L89.3 416M86.1 379.5L92.5 379.5M86.1 416L92.5 416M109.5 403L109.5 442.5M106.3 403L112.7 403M106.3 442.5L112.7 442.5M129.7 403L129.7 449.9M126.5 403L132.9 403M126.5 449.9L132.9 449.9M149.9 418.1L149.9 460.7M146.7 418.1L153.1 418.1M146.7 460.7L153.1 460.7M221 491.7L221 498.6M217.8 491.7L224.2 491.7M217.8 498.6L224.2 498.6" stroke="#8a8a8a" stroke-width="1.3" fill="none"/>
<path d="M170.1 433.3L170.1 469M166.9 433.3L173.3 433.3M166.9 469L173.3 469" stroke="#8a8a8a" stroke-width="1.3" fill="none" clip-path="url(#c1C)"/>
<rect x="46.7" y="348.3" width="4.4" height="4.4" fill="none" stroke="#8a8a8a" stroke-width="1"/>
<rect x="51.75" y="349.8" width="4.4" height="4.4" fill="none" stroke="#8a8a8a" stroke-width="1"/>
<rect x="56.8" y="356.1" width="4.4" height="4.4" fill="none" stroke="#8a8a8a" stroke-width="1"/>
<rect x="66.9" y="375.5" width="4.4" height="4.4" fill="none" stroke="#8a8a8a" stroke-width="1"/>
<rect x="87.1" y="395.5" width="4.4" height="4.4" fill="none" stroke="#8a8a8a" stroke-width="1"/>
<rect x="107.3" y="420.6" width="4.4" height="4.4" fill="none" stroke="#8a8a8a" stroke-width="1"/>
<rect x="127.5" y="423.6" width="4.4" height="4.4" fill="none" stroke="#8a8a8a" stroke-width="1"/>
<rect x="147.7" y="435.9" width="4.4" height="4.4" fill="none" stroke="#8a8a8a" stroke-width="1"/>
<rect x="167.9" y="448.3" width="4.4" height="4.4" fill="none" stroke="#8a8a8a" stroke-width="1"/>
<rect x="218.8" y="493.2" width="4.4" height="4.4" fill="none" stroke="#8a8a8a" stroke-width="1"/>
<path d="M48.9 353.3L53.95 398.6L59 431.6L69.1 482.4L89.3 502.7L109.5 505.5L129.7 505.5L149.9 505.5L170.1 505.5" stroke="#6a6a6a" stroke-width="0.9" fill="none" stroke-linejoin="round"/>
<path d="M170.1 505.5L221 505.4" stroke="#6a6a6a" stroke-width="0.9" fill="none" clip-path="url(#c2C)"/>
<path d="M48.9 349.7L48.9 357.2M45.7 349.7L52.1 349.7M45.7 357.2L52.1 357.2M59 427.5L59 436.5M55.8 427.5L62.2 427.5M55.8 436.5L62.2 436.5M69.1 479.5L69.1 485.5M65.9 479.5L72.3 479.5M65.9 485.5L72.3 485.5" stroke="#5e5e5e" stroke-width="1.3" fill="none"/>
<rect x="46.6" y="351" width="4.6" height="4.6" fill="#5e5e5e"/>
<rect x="51.65" y="396.3" width="4.6" height="4.6" fill="#5e5e5e"/>
<rect x="56.7" y="429.3" width="4.6" height="4.6" fill="#5e5e5e"/>
<rect x="66.8" y="480.1" width="4.6" height="4.6" fill="#5e5e5e"/>
<rect x="87" y="500.4" width="4.6" height="4.6" fill="#5e5e5e"/>
<rect x="107.2" y="503.2" width="4.6" height="4.6" fill="#5e5e5e"/>
<rect x="127.4" y="503.2" width="4.6" height="4.6" fill="#5e5e5e"/>
<rect x="147.6" y="503.2" width="4.6" height="4.6" fill="#5e5e5e"/>
<rect x="167.8" y="503.2" width="4.6" height="4.6" fill="#5e5e5e"/>
<rect x="218.7" y="503.1" width="4.6" height="4.6" fill="#5e5e5e"/>
<path d="M48.9 503L53.95 501L59 499.7L69.1 493.8L89.3 485.5L109.5 475.4L129.7 468.5L149.9 464.8L170.1 457.1" stroke="#f89a3a" stroke-width="1.0" fill="none" stroke-linejoin="round"/>
<path d="M170.1 457.1L221 440.7" stroke="#f89a3a" stroke-width="1.0" fill="none" clip-path="url(#c2C)"/>
<path d="M59 497.5L59 502M55.8 497.5L62.2 497.5M55.8 502L62.2 502M69.1 489.4L69.1 499M65.9 489.4L72.3 489.4M65.9 499L72.3 499M89.3 478L89.3 493.3M86.1 478L92.5 478M86.1 493.3L92.5 493.3M109.5 465.2L109.5 486M106.3 465.2L112.7 465.2M106.3 486L112.7 486M129.7 457.7L129.7 479.6M126.5 457.7L132.9 457.7M126.5 479.6L132.9 479.6M149.9 456.7L149.9 472.9M146.7 456.7L153.1 456.7M146.7 472.9L153.1 472.9M221 436L221 445M217.8 436L224.2 436M217.8 445L224.2 445" stroke="#f89a3a" stroke-width="1.3" fill="none"/>
<path d="M170.1 445L170.1 469M166.9 445L173.3 445M166.9 469L173.3 469" stroke="#f89a3a" stroke-width="1.3" fill="none" clip-path="url(#c1C)"/>
<circle cx="48.9" cy="503" r="2.45" fill="none" stroke="#f89a3a" stroke-width="1.05"/>
<circle cx="53.95" cy="501" r="2.45" fill="none" stroke="#f89a3a" stroke-width="1.05"/>
<circle cx="59" cy="499.7" r="2.45" fill="none" stroke="#f89a3a" stroke-width="1.05"/>
<circle cx="69.1" cy="493.8" r="2.45" fill="none" stroke="#f89a3a" stroke-width="1.05"/>
<circle cx="89.3" cy="485.5" r="2.45" fill="none" stroke="#f89a3a" stroke-width="1.05"/>
<circle cx="109.5" cy="475.4" r="2.45" fill="none" stroke="#f89a3a" stroke-width="1.05"/>
<circle cx="129.7" cy="468.5" r="2.45" fill="none" stroke="#f89a3a" stroke-width="1.05"/>
<circle cx="149.9" cy="464.8" r="2.45" fill="none" stroke="#f89a3a" stroke-width="1.05"/>
<circle cx="170.1" cy="457.1" r="2.45" fill="none" stroke="#f89a3a" stroke-width="1.05"/>
<circle cx="221" cy="440.7" r="2.45" fill="none" stroke="#f89a3a" stroke-width="1.05"/>
<path d="M48.9 498.3L53.95 478L59 464.9L69.1 450.5L89.3 445.5L109.5 442.5L129.7 438.8L149.9 441L170.1 440.1" stroke="#cc6010" stroke-width="1.0" fill="none" stroke-linejoin="round"/>
<path d="M170.1 440.1L221 437.9" stroke="#cc6010" stroke-width="1.0" fill="none" clip-path="url(#c2C)"/>
<path d="M48.9 495.7L48.9 501M45.7 495.7L52.1 495.7M45.7 501L52.1 501M59 462.7L59 467.7M55.8 462.7L62.2 462.7M55.8 467.7L62.2 467.7M69.1 446.1L69.1 454.9M65.9 446.1L72.3 446.1M65.9 454.9L72.3 454.9M89.3 442.7L89.3 448.3M86.1 442.7L92.5 442.7M86.1 448.3L92.5 448.3M109.5 439.5L109.5 445.5M106.3 439.5L112.7 439.5M106.3 445.5L112.7 445.5M129.7 435.8L129.7 441.8M126.5 435.8L132.9 435.8M126.5 441.8L132.9 441.8M149.9 437.3L149.9 445.5M146.7 437.3L153.1 437.3M146.7 445.5L153.1 445.5M221 433.3L221 443.1M217.8 433.3L224.2 433.3M217.8 443.1L224.2 443.1" stroke="#cc6010" stroke-width="1.5" fill="none"/>
<path d="M170.1 437L170.1 444.4M166.9 437L173.3 437M166.9 444.4L173.3 444.4" stroke="#cc6010" stroke-width="1.5" fill="none" clip-path="url(#c1C)"/>
<circle cx="48.9" cy="498.3" r="2.7" fill="#cc6010"/>
<circle cx="53.95" cy="478" r="2.7" fill="#cc6010"/>
<circle cx="59" cy="464.9" r="2.7" fill="#cc6010"/>
<circle cx="69.1" cy="450.5" r="2.7" fill="#cc6010"/>
<circle cx="89.3" cy="445.5" r="2.7" fill="#cc6010"/>
<circle cx="109.5" cy="442.5" r="2.7" fill="#cc6010"/>
<circle cx="129.7" cy="438.8" r="2.7" fill="#cc6010"/>
<circle cx="149.9" cy="441" r="2.7" fill="#cc6010"/>
<circle cx="170.1" cy="440.1" r="2.7" fill="#cc6010"/>
<circle cx="221" cy="437.9" r="2.7" fill="#cc6010"/>
<path d="M48.9 345.3L53.95 345.5L59 352L69.1 363.8L89.3 371L109.5 364L129.7 365.8L149.9 365.2L170.1 366" stroke="#0c0c8c" stroke-width="1.0" fill="none" stroke-linejoin="round"/>
<path d="M170.1 366L221 352.9" stroke="#0c0c8c" stroke-width="1.0" fill="none" clip-path="url(#c2C)"/>
<path d="M53.95 343.5L53.95 347.5M50.75 343.5L57.15 343.5M50.75 347.5L57.15 347.5M59 349.4L59 355M55.8 349.4L62.2 349.4M55.8 355L62.2 355M69.1 359.9L69.1 368.2M65.9 359.9L72.3 359.9M65.9 368.2L72.3 368.2M89.3 364.4L89.3 378.2M86.1 364.4L92.5 364.4M86.1 378.2L92.5 378.2M109.5 361.1L109.5 367M106.3 361.1L112.7 361.1M106.3 367L112.7 367M129.7 361.8L129.7 370M126.5 361.8L132.9 361.8M126.5 370L132.9 370M149.9 356.3L149.9 374.4M146.7 356.3L153.1 356.3M146.7 374.4L153.1 374.4M221 346L221 359.3M217.8 346L224.2 346M217.8 359.3L224.2 359.3" stroke="#0c0c8c" stroke-width="1.5" fill="none"/>
<path d="M170.1 360.8L170.1 371.7M166.9 360.8L173.3 360.8M166.9 371.7L173.3 371.7" stroke="#0c0c8c" stroke-width="1.5" fill="none" clip-path="url(#c1C)"/>
<path d="M48.9 342.2L51.7 345.3L48.9 348.4L46.1 345.3Z" fill="#0c0c8c"/>
<path d="M53.95 342.4L56.75 345.5L53.95 348.6L51.15 345.5Z" fill="#0c0c8c"/>
<path d="M59 348.9L61.8 352L59 355.1L56.2 352Z" fill="#0c0c8c"/>
<path d="M69.1 360.7L71.9 363.8L69.1 366.9L66.3 363.8Z" fill="#0c0c8c"/>
<path d="M89.3 367.9L92.1 371L89.3 374.1L86.5 371Z" fill="#0c0c8c"/>
<path d="M109.5 360.9L112.3 364L109.5 367.1L106.7 364Z" fill="#0c0c8c"/>
<path d="M129.7 362.7L132.5 365.8L129.7 368.9L126.9 365.8Z" fill="#0c0c8c"/>
<path d="M149.9 362.1L152.7 365.2L149.9 368.3L147.1 365.2Z" fill="#0c0c8c"/>
<path d="M170.1 362.9L172.9 366L170.1 369.1L167.3 366Z" fill="#0c0c8c"/>
<path d="M221 349.8L223.8 352.9L221 356L218.2 352.9Z" fill="#0c0c8c"/>
<text transform="translate(58.7 460.3) scale(0.85 1)" x="0.4" y="0" font-size="9" fill="#f22a48" stroke="#f22a48" stroke-width="0.25" text-anchor="middle" letter-spacing="0.5">##</text>
<text transform="translate(70.3 444) scale(0.85 1)" x="0.4" y="0" font-size="9" fill="#f22a48" stroke="#f22a48" stroke-width="0.25" text-anchor="middle" letter-spacing="0.5">###</text>
<text transform="translate(89.7 439.5) scale(0.85 1)" x="0.4" y="0" font-size="9" fill="#f22a48" stroke="#f22a48" stroke-width="0.25" text-anchor="middle" letter-spacing="0.5">###</text>
<text transform="translate(107.5 437.2) scale(0.85 1)" x="0.4" y="0" font-size="9" fill="#f22a48" stroke="#f22a48" stroke-width="0.25" text-anchor="middle" letter-spacing="0.5">#</text>
<text transform="translate(127.9 436.7) scale(0.85 1)" x="0.4" y="0" font-size="9" fill="#f22a48" stroke="#f22a48" stroke-width="0.25" text-anchor="middle" letter-spacing="0.5">#</text>
<path d="M51.9 424.3L56.3 424.3M52.95 422.35L55.25 426.25M52.95 426.25L55.25 422.35M56.9 424.3L61.3 424.3M57.95 422.35L60.25 426.25M57.95 426.25L60.25 422.35M61.9 424.3L66.3 424.3M62.95 422.35L65.25 426.25M62.95 426.25L65.25 422.35" stroke="#333333" stroke-width="0.85" fill="none"/>
<path d="M62.2 475.8L66.6 475.8M63.25 473.85L65.55 477.75M63.25 477.75L65.55 473.85M67.2 475.8L71.6 475.8M68.25 473.85L70.55 477.75M68.25 477.75L70.55 473.85M72.2 475.8L76.6 475.8M73.25 473.85L75.55 477.75M73.25 477.75L75.55 473.85" stroke="#333333" stroke-width="0.85" fill="none"/>
<path d="M80.5 497.2L84.9 497.2M81.55 495.25L83.85 499.15M81.55 499.15L83.85 495.25M85.5 497.2L89.9 497.2M86.55 495.25L88.85 499.15M86.55 499.15L88.85 495.25M90.5 497.2L94.9 497.2M91.55 495.25L93.85 499.15M91.55 499.15L93.85 495.25" stroke="#333333" stroke-width="0.85" fill="none"/>
<path d="M102.6 499.6L107 499.6M103.65 497.65L105.95 501.55M103.65 501.55L105.95 497.65M107.6 499.6L112 499.6M108.65 497.65L110.95 501.55M108.65 501.55L110.95 497.65M112.6 499.6L117 499.6M113.65 497.65L115.95 501.55M113.65 501.55L115.95 497.65" stroke="#333333" stroke-width="0.85" fill="none"/>
<path d="M122.8 499.6L127.2 499.6M123.85 497.65L126.15 501.55M123.85 501.55L126.15 497.65M127.8 499.6L132.2 499.6M128.85 497.65L131.15 501.55M128.85 501.55L131.15 497.65M132.8 499.6L137.2 499.6M133.85 497.65L136.15 501.55M133.85 501.55L136.15 497.65" stroke="#333333" stroke-width="0.85" fill="none"/>
<path d="M145.8 499.6L150.2 499.6M146.85 497.65L149.15 501.55M146.85 501.55L149.15 497.65M150.8 499.6L155.2 499.6M151.85 497.65L154.15 501.55M151.85 501.55L154.15 497.65" stroke="#333333" stroke-width="0.85" fill="none"/>
<text x="272.9" y="291" font-size="11.6" fill="#111" stroke="#111" stroke-width="0.15">D.</text>
<text x="400.8" y="299.2" font-size="10.8" font-weight="bold" fill="#111" stroke="#111" stroke-width="0.3" textLength="21.6" lengthAdjust="spacingAndGlyphs">pH8</text>
<text x="310" y="508.5" font-size="9.8" font-weight="bold" fill="#111" stroke="#111" stroke-width="0.3" text-anchor="end">0</text>
<text x="310" y="470.34" font-size="9.8" font-weight="bold" fill="#111" stroke="#111" stroke-width="0.3" text-anchor="end">50</text>
<text x="310" y="432.18" font-size="9.8" font-weight="bold" fill="#111" stroke="#111" stroke-width="0.3" text-anchor="end">100</text>
<text x="310" y="394.02" font-size="9.8" font-weight="bold" fill="#111" stroke="#111" stroke-width="0.3" text-anchor="end">150</text>
<text x="310" y="355.86" font-size="9.8" font-weight="bold" fill="#111" stroke="#111" stroke-width="0.3" text-anchor="end">200</text>
<text x="310" y="317.7" font-size="9.8" font-weight="bold" fill="#111" stroke="#111" stroke-width="0.3" text-anchor="end">250</text>
<text x="513.3" y="504.9" font-size="9.6" font-weight="bold" fill="#111" stroke="#111" stroke-width="0.3">0</text>
<text x="513.3" y="473.67" font-size="9.6" font-weight="bold" fill="#111" stroke="#111" stroke-width="0.3">20</text>
<text x="513.3" y="442.43" font-size="9.6" font-weight="bold" fill="#111" stroke="#111" stroke-width="0.3">40</text>
<text x="513.3" y="411.2" font-size="9.6" font-weight="bold" fill="#111" stroke="#111" stroke-width="0.3">60</text>
<text x="513.3" y="379.97" font-size="9.6" font-weight="bold" fill="#111" stroke="#111" stroke-width="0.3">80</text>
<text x="513.3" y="348.73" font-size="9.6" font-weight="bold" fill="#111" stroke="#111" stroke-width="0.3">100</text>
<text x="513.3" y="317.5" font-size="9.6" font-weight="bold" fill="#111" stroke="#111" stroke-width="0.3">120</text>
<text x="323.7" y="521.6" font-size="9.8" font-weight="bold" fill="#111" stroke="#111" stroke-width="0.3" text-anchor="middle">0</text>
<text x="343.9" y="521.6" font-size="9.8" font-weight="bold" fill="#111" stroke="#111" stroke-width="0.3" text-anchor="middle">2</text>
<text x="364.1" y="521.6" font-size="9.8" font-weight="bold" fill="#111" stroke="#111" stroke-width="0.3" text-anchor="middle">4</text>
<text x="384.3" y="521.6" font-size="9.8" font-weight="bold" fill="#111" stroke="#111" stroke-width="0.3" text-anchor="middle">6</text>
<text x="404.5" y="521.6" font-size="9.8" font-weight="bold" fill="#111" stroke="#111" stroke-width="0.3" text-anchor="middle">8</text>
<text x="424.7" y="521.6" font-size="9.8" font-weight="bold" fill="#111" stroke="#111" stroke-width="0.3" text-anchor="middle">10</text>
<text x="444.9" y="521.6" font-size="9.8" font-weight="bold" fill="#111" stroke="#111" stroke-width="0.3" text-anchor="middle">12</text>
<text x="495.8" y="521.6" font-size="9.8" font-weight="bold" fill="#111" stroke="#111" stroke-width="0.3" text-anchor="middle">24</text>
<path d="M313.6 314.3L313.6 509.2L445.2 509.2M451.6 509.2L508.4 509.2L508.4 314.1M444.9 506.8L444.9 512.2M451.9 506.8L451.9 511.5M310.9 505.1L313.6 505.1M310.9 466.94L313.6 466.94M310.9 428.78L313.6 428.78M310.9 390.62L313.6 390.62M310.9 352.46L313.6 352.46M310.9 314.3L313.6 314.3M508.4 501.5L511.1 501.5M508.4 470.27L511.1 470.27M508.4 439.03L511.1 439.03M508.4 407.8L511.1 407.8M508.4 376.57L511.1 376.57M508.4 345.33L511.1 345.33M508.4 314.1L511.1 314.1M323.5 509.2L323.5 512.2M343.7 509.2L343.7 512.2M363.9 509.2L363.9 512.2M384.1 509.2L384.1 512.2M404.3 509.2L404.3 512.2M424.5 509.2L424.5 512.2M444.7 509.2L444.7 512.2M495.6 509.2L495.6 512.2" stroke="#111" stroke-width="1.4" fill="none" stroke-linecap="square"/>
<text x="288.3" y="410.3" font-size="10.3" font-weight="bold" fill="#111" stroke="#111" stroke-width="0.3" text-anchor="middle" transform="rotate(-90 288.3 410.3)" textLength="80.5" lengthAdjust="spacingAndGlyphs">GSH/GSSG (μM)</text>
<text x="537.9" y="410.65" font-size="10.8" font-weight="bold" fill="#111" stroke="#111" stroke-width="0.3" text-anchor="middle" transform="rotate(90 537.9 410.65)" textLength="64.3" lengthAdjust="spacingAndGlyphs">Recovery (%)</text>
<text x="411.6" y="534.9" font-size="10.6" font-weight="bold" fill="#111" stroke="#111" stroke-width="0.3" text-anchor="middle" textLength="36.7" lengthAdjust="spacingAndGlyphs">time (h)</text>
<clipPath id="c1D"><rect x="313.6" y="293.6" width="131.95" height="220"/></clipPath>
<clipPath id="c2D"><rect x="451.6" y="293.6" width="56.8" height="220"/></clipPath>
<path d="M323.5 345L328.55 348.7L333.6 355L343.7 365.8L363.9 388.6L384.1 412.6L404.3 441.4L424.5 455.9L444.7 473.4" stroke="#9a9a9a" stroke-width="0.9" fill="none" stroke-linejoin="round"/>
<path d="M444.7 473.4L495.6 503.2" stroke="#9a9a9a" stroke-width="0.9" fill="none" clip-path="url(#c2D)"/>
<path d="M323.5 338.5L323.5 352M320.3 338.5L326.7 338.5M320.3 352L326.7 352M328.55 338.5L328.55 358.5M325.35 338.5L331.75 338.5M325.35 358.5L331.75 358.5M333.6 345.9L333.6 364M330.4 345.9L336.8 345.9M330.4 364L336.8 364M343.7 362.5L343.7 369.2M340.5 362.5L346.9 362.5M340.5 369.2L346.9 369.2M363.9 379.9L363.9 397.2M360.7 379.9L367.1 379.9M360.7 397.2L367.1 397.2M384.1 406.7L384.1 418.5M380.9 406.7L387.3 406.7M380.9 418.5L387.3 418.5M404.3 438.4L404.3 444.4M401.1 438.4L407.5 438.4M401.1 444.4L407.5 444.4M424.5 452.9L424.5 458.9M421.3 452.9L427.7 452.9M421.3 458.9L427.7 458.9" stroke="#8a8a8a" stroke-width="1.3" fill="none"/>
<rect x="321.3" y="342.8" width="4.4" height="4.4" fill="none" stroke="#8a8a8a" stroke-width="1"/>
<rect x="326.35" y="346.5" width="4.4" height="4.4" fill="none" stroke="#8a8a8a" stroke-width="1"/>
<rect x="331.4" y="352.8" width="4.4" height="4.4" fill="none" stroke="#8a8a8a" stroke-width="1"/>
<rect x="341.5" y="363.6" width="4.4" height="4.4" fill="none" stroke="#8a8a8a" stroke-width="1"/>
<rect x="361.7" y="386.4" width="4.4" height="4.4" fill="none" stroke="#8a8a8a" stroke-width="1"/>
<rect x="381.9" y="410.4" width="4.4" height="4.4" fill="none" stroke="#8a8a8a" stroke-width="1"/>
<rect x="402.1" y="439.2" width="4.4" height="4.4" fill="none" stroke="#8a8a8a" stroke-width="1"/>
<rect x="422.3" y="453.7" width="4.4" height="4.4" fill="none" stroke="#8a8a8a" stroke-width="1"/>
<rect x="442.5" y="471.2" width="4.4" height="4.4" fill="none" stroke="#8a8a8a" stroke-width="1"/>
<rect x="493.4" y="501" width="4.4" height="4.4" fill="none" stroke="#8a8a8a" stroke-width="1"/>
<path d="M323.5 359L328.55 444.6L333.6 487L343.7 503.4L363.9 505.1L384.1 505.2L404.3 505.2L424.5 505.2L444.7 505.2" stroke="#6a6a6a" stroke-width="0.9" fill="none" stroke-linejoin="round"/>
<path d="M444.7 505.2L495.6 505.4" stroke="#6a6a6a" stroke-width="0.9" fill="none" clip-path="url(#c2D)"/>
<path d="M323.5 356L323.5 362M320.3 356L326.7 356M320.3 362L326.7 362M328.55 441.6L328.55 447.6M325.35 441.6L331.75 441.6M325.35 447.6L331.75 447.6" stroke="#5e5e5e" stroke-width="1.3" fill="none"/>
<rect x="321.2" y="356.7" width="4.6" height="4.6" fill="#5e5e5e"/>
<rect x="326.25" y="442.3" width="4.6" height="4.6" fill="#5e5e5e"/>
<rect x="331.3" y="484.7" width="4.6" height="4.6" fill="#5e5e5e"/>
<rect x="341.4" y="501.1" width="4.6" height="4.6" fill="#5e5e5e"/>
<rect x="361.6" y="502.8" width="4.6" height="4.6" fill="#5e5e5e"/>
<rect x="381.8" y="502.9" width="4.6" height="4.6" fill="#5e5e5e"/>
<rect x="402" y="502.9" width="4.6" height="4.6" fill="#5e5e5e"/>
<rect x="422.2" y="502.9" width="4.6" height="4.6" fill="#5e5e5e"/>
<rect x="442.4" y="502.9" width="4.6" height="4.6" fill="#5e5e5e"/>
<rect x="493.3" y="503.1" width="4.6" height="4.6" fill="#5e5e5e"/>
<path d="M323.5 503.1L328.55 502.4L333.6 500.5L343.7 494.8L363.9 483.8L384.1 471L404.3 459.9L424.5 451.8L444.7 441.8" stroke="#f89a3a" stroke-width="1.0" fill="none" stroke-linejoin="round"/>
<path d="M444.7 441.8L495.6 430.2" stroke="#f89a3a" stroke-width="1.0" fill="none" clip-path="url(#c2D)"/>
<path d="M363.9 480.8L363.9 486.8M360.7 480.8L367.1 480.8M360.7 486.8L367.1 486.8M384.1 467L384.1 475M380.9 467L387.3 467M380.9 475L387.3 475M404.3 455.9L404.3 463.9M401.1 455.9L407.5 455.9M401.1 463.9L407.5 463.9M424.5 447.3L424.5 456.2M421.3 447.3L427.7 447.3M421.3 456.2L427.7 456.2" stroke="#f89a3a" stroke-width="1.3" fill="none"/>
<circle cx="323.5" cy="503.1" r="2.45" fill="none" stroke="#f89a3a" stroke-width="1.05"/>
<circle cx="328.55" cy="502.4" r="2.45" fill="none" stroke="#f89a3a" stroke-width="1.05"/>
<circle cx="333.6" cy="500.5" r="2.45" fill="none" stroke="#f89a3a" stroke-width="1.05"/>
<circle cx="343.7" cy="494.8" r="2.45" fill="none" stroke="#f89a3a" stroke-width="1.05"/>
<circle cx="363.9" cy="483.8" r="2.45" fill="none" stroke="#f89a3a" stroke-width="1.05"/>
<circle cx="384.1" cy="471" r="2.45" fill="none" stroke="#f89a3a" stroke-width="1.05"/>
<circle cx="404.3" cy="459.9" r="2.45" fill="none" stroke="#f89a3a" stroke-width="1.05"/>
<circle cx="424.5" cy="451.8" r="2.45" fill="none" stroke="#f89a3a" stroke-width="1.05"/>
<circle cx="444.7" cy="441.8" r="2.45" fill="none" stroke="#f89a3a" stroke-width="1.05"/>
<circle cx="495.6" cy="430.2" r="2.45" fill="none" stroke="#f89a3a" stroke-width="1.05"/>
<path d="M323.5 496.2L328.55 460.5L333.6 441.2L343.7 432.7L363.9 434.6L384.1 433.3L404.3 435.5L424.5 436.2L444.7 435.6" stroke="#cc6010" stroke-width="1.0" fill="none" stroke-linejoin="round"/>
<path d="M444.7 435.6L495.6 430" stroke="#cc6010" stroke-width="1.0" fill="none" clip-path="url(#c2D)"/>
<path d="M363.9 431.6L363.9 437.6M360.7 431.6L367.1 431.6M360.7 437.6L367.1 437.6M384.1 430.3L384.1 436.3M380.9 430.3L387.3 430.3M380.9 436.3L387.3 436.3M404.3 432.2L404.3 438.8M401.1 432.2L407.5 432.2M401.1 438.8L407.5 438.8M424.5 433.2L424.5 439.2M421.3 433.2L427.7 433.2M421.3 439.2L427.7 439.2M495.6 424.6L495.6 435.5M492.4 424.6L498.8 424.6M492.4 435.5L498.8 435.5" stroke="#cc6010" stroke-width="1.5" fill="none"/>
<path d="M444.7 432.4L444.7 439M441.5 432.4L447.9 432.4M441.5 439L447.9 439" stroke="#cc6010" stroke-width="1.5" fill="none" clip-path="url(#c1D)"/>
<circle cx="323.5" cy="496.2" r="2.7" fill="#cc6010"/>
<circle cx="328.55" cy="460.5" r="2.7" fill="#cc6010"/>
<circle cx="333.6" cy="441.2" r="2.7" fill="#cc6010"/>
<circle cx="343.7" cy="432.7" r="2.7" fill="#cc6010"/>
<circle cx="363.9" cy="434.6" r="2.7" fill="#cc6010"/>
<circle cx="384.1" cy="433.3" r="2.7" fill="#cc6010"/>
<circle cx="404.3" cy="435.5" r="2.7" fill="#cc6010"/>
<circle cx="424.5" cy="436.2" r="2.7" fill="#cc6010"/>
<circle cx="444.7" cy="435.6" r="2.7" fill="#cc6010"/>
<circle cx="495.6" cy="430" r="2.7" fill="#cc6010"/>
<path d="M323.5 343.5L328.55 358.3L333.6 360.5L343.7 359.7L363.9 358.8L384.1 358.1L404.3 359.6L424.5 360.8L444.7 362.2" stroke="#0c0c8c" stroke-width="1.0" fill="none" stroke-linejoin="round"/>
<path d="M444.7 362.2L495.6 342.2" stroke="#0c0c8c" stroke-width="1.0" fill="none" clip-path="url(#c2D)"/>
<path d="M333.6 352.2L333.6 369M330.4 352.2L336.8 352.2M330.4 369L336.8 369M343.7 355.7L343.7 363M340.5 355.7L346.9 355.7M340.5 363L346.9 363M363.9 342.4L363.9 374.9M360.7 342.4L367.1 342.4M360.7 374.9L367.1 374.9M384.1 346L384.1 370M380.9 346L387.3 346M380.9 370L387.3 370M404.3 352.9L404.3 366.7M401.1 352.9L407.5 352.9M401.1 366.7L407.5 366.7M424.5 352.9L424.5 368.2M421.3 352.9L427.7 352.9M421.3 368.2L427.7 368.2M495.6 335.5L495.6 348.8M492.4 335.5L498.8 335.5M492.4 348.8L498.8 348.8" stroke="#0c0c8c" stroke-width="1.5" fill="none"/>
<path d="M444.7 359L444.7 365M441.5 359L447.9 359M441.5 365L447.9 365" stroke="#0c0c8c" stroke-width="1.5" fill="none" clip-path="url(#c1D)"/>
<path d="M323.5 340.4L326.3 343.5L323.5 346.6L320.7 343.5Z" fill="#0c0c8c"/>
<path d="M328.55 355.2L331.35 358.3L328.55 361.4L325.75 358.3Z" fill="#0c0c8c"/>
<path d="M333.6 357.4L336.4 360.5L333.6 363.6L330.8 360.5Z" fill="#0c0c8c"/>
<path d="M343.7 356.6L346.5 359.7L343.7 362.8L340.9 359.7Z" fill="#0c0c8c"/>
<path d="M363.9 355.7L366.7 358.8L363.9 361.9L361.1 358.8Z" fill="#0c0c8c"/>
<path d="M384.1 355L386.9 358.1L384.1 361.2L381.3 358.1Z" fill="#0c0c8c"/>
<path d="M404.3 356.5L407.1 359.6L404.3 362.7L401.5 359.6Z" fill="#0c0c8c"/>
<path d="M424.5 357.7L427.3 360.8L424.5 363.9L421.7 360.8Z" fill="#0c0c8c"/>
<path d="M444.7 359.1L447.5 362.2L444.7 365.3L441.9 362.2Z" fill="#0c0c8c"/>
<path d="M495.6 339.1L498.4 342.2L495.6 345.3L492.8 342.2Z" fill="#0c0c8c"/>
<text transform="translate(328.1 457.3) scale(0.85 1)" x="0.4" y="0" font-size="9" fill="#f22a48" stroke="#f22a48" stroke-width="0.25" text-anchor="middle" letter-spacing="0.5">###</text>
<text transform="translate(333.1 433.6) scale(0.85 1)" x="0.4" y="0" font-size="9" fill="#f22a48" stroke="#f22a48" stroke-width="0.25" text-anchor="middle" letter-spacing="0.5">###</text>
<text transform="translate(345.6 427.2) scale(0.85 1)" x="0.4" y="0" font-size="9" fill="#f22a48" stroke="#f22a48" stroke-width="0.25" text-anchor="middle" letter-spacing="0.5">###</text>
<text transform="translate(364.4 429.5) scale(0.85 1)" x="0.4" y="0" font-size="9" fill="#f22a48" stroke="#f22a48" stroke-width="0.25" text-anchor="middle" letter-spacing="0.5">###</text>
<text transform="translate(384.7 429.7) scale(0.85 1)" x="0.4" y="0" font-size="9" fill="#f22a48" stroke="#f22a48" stroke-width="0.25" text-anchor="middle" letter-spacing="0.5">###</text>
<text transform="translate(404.7 430.5) scale(0.85 1)" x="0.4" y="0" font-size="9" fill="#f22a48" stroke="#f22a48" stroke-width="0.25" text-anchor="middle" letter-spacing="0.5">###</text>
<path d="M317.8 437.1L322.2 437.1M318.85 435.15L321.15 439.05M318.85 439.05L321.15 435.15M322.8 437.1L327.2 437.1M323.85 435.15L326.15 439.05M323.85 439.05L326.15 435.15M327.8 437.1L332.2 437.1M328.85 435.15L331.15 439.05M328.85 439.05L331.15 435.15" stroke="#333333" stroke-width="0.85" fill="none"/>
<path d="M326.8 481L331.2 481M327.85 479.05L330.15 482.95M327.85 482.95L330.15 479.05M331.8 481L336.2 481M332.85 479.05L335.15 482.95M332.85 482.95L335.15 479.05M336.8 481L341.2 481M337.85 479.05L340.15 482.95M337.85 482.95L340.15 479.05" stroke="#333333" stroke-width="0.85" fill="none"/>
<path d="M338.2 497.6L342.6 497.6M339.25 495.65L341.55 499.55M339.25 499.55L341.55 495.65M343.2 497.6L347.6 497.6M344.25 495.65L346.55 499.55M344.25 499.55L346.55 495.65M348.2 497.6L352.6 497.6M349.25 495.65L351.55 499.55M349.25 499.55L351.55 495.65" stroke="#333333" stroke-width="0.85" fill="none"/>
<path d="M356.2 499.6L360.6 499.6M357.25 497.65L359.55 501.55M357.25 501.55L359.55 497.65M361.2 499.6L365.6 499.6M362.25 497.65L364.55 501.55M362.25 501.55L364.55 497.65M366.2 499.6L370.6 499.6M367.25 497.65L369.55 501.55M367.25 501.55L369.55 497.65" stroke="#333333" stroke-width="0.85" fill="none"/>
<path d="M376.6 499.8L381 499.8M377.65 497.85L379.95 501.75M377.65 501.75L379.95 497.85M381.6 499.8L386 499.8M382.65 497.85L384.95 501.75M382.65 501.75L384.95 497.85M386.6 499.8L391 499.8M387.65 497.85L389.95 501.75M387.65 501.75L389.95 497.85" stroke="#333333" stroke-width="0.85" fill="none"/>
<path d="M397 499.8L401.4 499.8M398.05 497.85L400.35 501.75M398.05 501.75L400.35 497.85M402 499.8L406.4 499.8M403.05 497.85L405.35 501.75M403.05 501.75L405.35 497.85M407 499.8L411.4 499.8M408.05 497.85L410.35 501.75M408.05 501.75L410.35 497.85" stroke="#333333" stroke-width="0.85" fill="none"/>
<path d="M416.9 499.8L421.3 499.8M417.95 497.85L420.25 501.75M417.95 501.75L420.25 497.85M421.9 499.8L426.3 499.8M422.95 497.85L425.25 501.75M422.95 501.75L425.25 497.85M426.9 499.8L431.3 499.8M427.95 497.85L430.25 501.75M427.95 501.75L430.25 497.85" stroke="#333333" stroke-width="0.85" fill="none"/>
<path d="M437 499.8L441.4 499.8M438.05 497.85L440.35 501.75M438.05 501.75L440.35 497.85M442 499.8L446.4 499.8M443.05 497.85L445.35 501.75M443.05 501.75L445.35 497.85M447 499.8L451.4 499.8M448.05 497.85L450.35 501.75M448.05 501.75L450.35 497.85" stroke="#333333" stroke-width="0.85" fill="none"/>
</svg></body></html>
